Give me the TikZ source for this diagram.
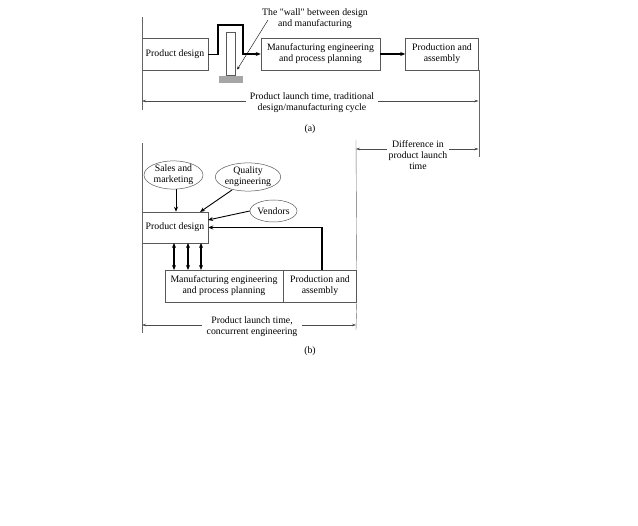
\documentclass[tikz,border=0pt]{standalone}
\usepackage{fontspec}
\setmainfont{Liberation Serif}
\usetikzlibrary{positioning,shapes.geometric,arrows.meta}

\begin{document}
\begin{tikzpicture}[x=1pt,y=-1pt,font=\fontsize{9.8}{11}\selectfont]
\tikzstyle{box} = [rectangle, draw=black!65, line width=0.5pt, minimum height=32pt, text centered, align=center, inner sep=1pt]
\tikzstyle{oval} = [ellipse, draw=black!65, line width=0.5pt, align=center, inner sep=0pt]
\tikzstyle{arrow} = [line width=1.1pt, -{Stealth[length=5pt,width=4pt]}]
\tikzstyle{twoway} = [line width=1.1pt, {Stealth[length=5pt,width=4pt]}-{Stealth[length=5pt,width=4pt]}]
\tikzstyle{dim} = [line width=0.4pt, black!70, -{Stealth[length=4pt,width=2.5pt]}]
\tikzstyle{limit} = [line width=0.4pt, black!60]
\tikzstyle{note} = [align=center, inner ysep=1pt, inner xsep=4pt]

\useasboundingbox [fill=white] (0,0) rectangle (638,526);

% (a) Nodes
\node (adesign) [box, minimum width=66pt] at (175,54.5) {Product design};
\node (amanu) [box, minimum width=119pt] at (320.5,54) {Manufacturing engineering\\and process planning};
\node (aprod) [box, minimum width=73pt] at (442,54) {Production and\\assembly};
\node (wall) [rectangle, draw=black!65, line width=0.5pt, minimum width=9pt, minimum height=43pt, inner sep=0pt] at (230.5,53.5) {};
\fill [black!35] (219,76) rectangle (243,83);
\node (walltext) [note] at (315,18.5) {The \textquotedbl wall\textquotedbl{} between design\\and manufacturing};
\node (alaunch) [note] at (312,102.5) {Product launch time, traditional\\design/manufacturing cycle};
\node (atag) at (310,129.5) {(a)};
\node (diff) [note, inner xsep=2pt] at (418,155) {Difference in\\product launch\\time};

% (a) Arrows
\draw [arrow] (adesign.east) -| (218,25) -| (243,54) -- (amanu.west);
\draw [arrow] (amanu) -- (aprod);
\draw [line width=0.4pt, -{Stealth[length=3pt,width=2.5pt]}] (268,20) -- ([xshift=2pt,yshift=-16pt]wall.east);
\draw [limit] (142,17) -- (142,110);
\draw [limit] (aprod.south east) -- ++(0,87);
\draw [dim] (alaunch.west |- 0,101) -- (142,101);
\draw [dim] (alaunch.east |- 0,101) -- (478.5,101);
\draw [dim] (diff.west |- 0,149) -- (356,149);
\draw [dim] (diff.east |- 0,149) -- (478.5,149);

% (b) Nodes
\node (sales) [oval, minimum width=59pt, minimum height=27pt] at (173.5,175) {Sales and\\marketing};
\node (quality) [oval, minimum width=61pt, minimum height=26pt] at (248,177) {Quality\\engineering};
\node (vendors) [oval, minimum width=47pt, minimum height=22pt] at (273.5,211) {Vendors};
\node (bdesign) [box, minimum width=66pt, minimum height=31pt] at (175,227.5) {Product design};
\node (bmanu) [box, minimum width=118pt] at (224,286) {Manufacturing engineering\\and process planning};
\node (bprod) [box, minimum width=73pt, right=0pt of bmanu] {Production and\\assembly};
\node (blaunch) [note] at (252,326.5) {Product launch time,\\concurrent engineering};
\node (btag) at (310,351.5) {(b)};

% (b) Arrows
\draw [arrow, line width=0.9pt] (sales.south -| 176,0) -- (bdesign.north -| 176,0);
\draw [arrow, line width=0.9pt] (232,190) -- (200,212);
\draw [arrow, line width=0.9pt] (vendors.west) -- (208,220);
\draw [arrow] (bprod.north -| 322,0) |- (bdesign.east);
\foreach \x in {174,188,201}
  \draw [twoway] (\x,243) -- (\x,270);
\draw [limit] (142,143) -- (142,333);
\draw [limit] (356,140) -- (bprod.north east);
\draw [limit] (bprod.south east) -- (356,330);
\draw [dim] (blaunch.west |- 0,325) -- (142,325);
\draw [dim] (blaunch.east |- 0,325) -- (356,325);

\end{tikzpicture}
\end{document}
